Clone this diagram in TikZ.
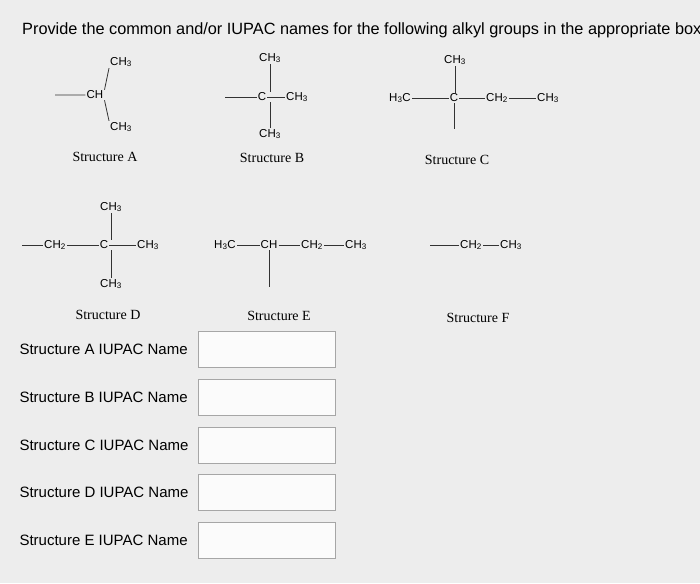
\documentclass[tikz,border=0pt]{standalone}
\usepackage{fontspec}
\setmainfont{Liberation Sans}
\newfontfamily\serif{Liberation Serif}
\newcommand{\sbs}[1]{\textsubscript{#1}}
\begin{document}
\begin{tikzpicture}[x=1pt,y=-1pt,
  atm/.style={inner sep=1pt,font=\fontsize{11.5}{13}\selectfont},
  bd/.style={line width=0.8pt,black!80},
  capt/.style={font=\serif\fontsize{14}{16}\selectfont},
  lab/.style={anchor=west,font=\fontsize{15}{17}\selectfont},
  box/.style={draw=black!35,fill=white!97!gray,line width=1pt,minimum width=137pt,minimum height=36pt,inner sep=0pt}]
\fill[black!7] (0,0) rectangle (700,583);
\useasboundingbox (0,0) rectangle (700,583);
\node[anchor=west,font=\fontsize{16.3}{18}\selectfont,inner sep=0pt] (title) at (22,30) {Provide the common and/or IUPAC names for the following alkyl groups in the appropriate boxes.};
% A
\node[atm] (a1) at (95,95) {CH};
\node[atm] (a2) at (121,62) {CH\sbs{3}};
\node[atm] (a3) at (121,127) {CH\sbs{3}};
\coordinate (a0) at (55,95);
\draw[bd] (a0) -- (a1.west) (a1.north east) -- (a2.south west) (a1.south east) -- (a3.north west);
\node[capt] (sa) at (105,157) {Structure A};
% B
\node[atm] (b1) at (262,97) {C};
\node[atm] (b2) at (297,97) {CH\sbs{3}};
\node[atm] (b3) at (270,58) {CH\sbs{3}};
\node[atm] (b4) at (270,134) {CH\sbs{3}};
\coordinate (b0) at (225,97);
\draw[bd] (b0) -- (b1.west) (b1.east) -- (b2.west) (b3.south) -- (b3.south|-b1.north) (b4.north) -- (b4.north|-b1.south);
\node[capt] (sb) at (272,158) {Structure B};
% C
\node[atm] (c0) at (400,98) {H\sbs{3}C};
\node[atm] (c1) at (454,98) {C};
\node[atm] (c2) at (497,98) {CH\sbs{2}};
\node[atm] (c3) at (548,98) {CH\sbs{3}};
\node[atm] (c4) at (455,60) {CH\sbs{3}};
\coordinate (c5) at (454,129);
\draw[bd] (c0.east) -- (c1.west) (c1.east) -- (c2.west) (c2.east) -- (c3.west) (c4.south) -- (c4.south|-c1.north) (c1.south) -- (c5);
\node[capt] (sc) at (457,160) {Structure C};
% D
\node[atm] (d1) at (55,245) {CH\sbs{2}};
\node[atm] (d2) at (104,245) {C};
\node[atm] (d3) at (148,245) {CH\sbs{3}};
\node[atm] (d4) at (111,207) {CH\sbs{3}};
\node[atm] (d5) at (111,284) {CH\sbs{3}};
\coordinate (d0) at (22,245);
\draw[bd] (d0) -- (d1.west) (d1.east) -- (d2.west) (d2.east) -- (d3.west) (d4.south) -- (d4.south|-d2.north) (d5.north) -- (d5.north|-d2.south);
\node[capt] (sd) at (108,315) {Structure D};
% E
\node[atm] (e0) at (225,245) {H\sbs{3}C};
\node[atm] (e1) at (269,245) {CH};
\node[atm] (e2) at (312,245) {CH\sbs{2}};
\node[atm] (e3) at (356,245) {CH\sbs{3}};
\coordinate (e4) at (269,287);
\draw[bd] (e0.east) -- (e1.west) (e1.east) -- (e2.west) (e2.east) -- (e3.west) (e1.south) -- (e4);
\node[capt] (se) at (279,316) {Structure E};
% F
\coordinate (f0) at (430,245);
\node[atm] (f1) at (471,245) {CH\sbs{2}};
\node[atm] (f2) at (511,245) {CH\sbs{3}};
\draw[bd] (f0) -- (f1.west) (f1.east) -- (f2.west);
\node[capt] (sf) at (478,318) {Structure F};
% boxes
\foreach \n/\y in {A/349,B/397,C/445,D/492,E/540}{
  \node[lab] (l\n) at (16,\y) {Structure \n\ IUPAC Name};
  \node[box] (x\n) at (267,\y) {};
}
\end{tikzpicture}
\end{document}
